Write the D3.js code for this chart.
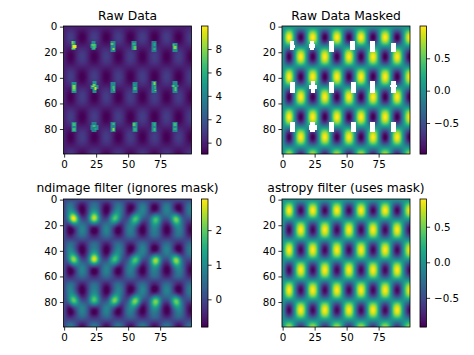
<!DOCTYPE html>
<html>
<head>
<meta charset="utf-8">
<script src="https://cdn.jsdelivr.net/npm/d3@7"></script>
<style>
  html, body { margin: 0; padding: 0; background: #fff; }
  text { font-family: "DejaVu Sans", sans-serif; fill: #000; }
</style>
</head>
<body>
<div id="chart"></div>
<script>
// Titles, tick labels and colour ranges
const titles = ["Raw Data", "Raw Data Masked", "ndimage filter (ignores mask)", "astropy filter (uses mask)"];
const imageTicksX = [0, 25, 50, 75];
const imageTicksY = [0, 20, 40, 60, 80];
const rawBarTicks = [0, 2, 4, 6, 8];
const maskedBarTicks = [-0.5, 0, 0.5];
const ndimageBarTicks = [0, 1, 2];
const astropyBarTicks = [-0.5, 0, 0.5];
const rawRange = [-0.97, 9.97];
const maskedRange = [-0.98, 1];
const ndimageRange = [-0.8, 2.9];
const astropyRange = [-0.91, 0.89];

// Background wave of the raw image, sampled every 4.71 columns and 7.85 rows
const rawGrid = [
  [0,0,0,0,0,0,0,0,0,0,0,0,0,0,0,0,0,0,0,0,0,0],
  [0,1,0,-1,0,1,0,-1,0,1,0,-1,0,1,0,-1,0,1,0,-1,0,1],
  [0,0,0,0,0,0,0,0,0,0,0,0,0,0,0,0,0,0,0,0,0,0],
  [0,-1,0,1,0,-1,0,1,0,-1,0,1,0,-1,0,1,0,-1,0,1,0,-1],
  [0,0,0,0,0,0,0,0,0,0,0,0,0,0,0,0,0,0,0,0,0,0],
  [0,1,0,-1,0,1,0,-1,0,1,0,-1,0,1,0,-1,0,1,0,-1,0,1],
  [0,0,0,0,0,0,0,0,0,0,0,0,0,0,0,0,0,0,0,0,0,0],
  [0,-1,0,1,0,-1,0,1,0,-1,0,1,0,-1,0,1,0,-1,0,1,0,-1],
  [0,0,0,0,0,0,0,0,0,0,0,0,0,0,0,0,0,0,0,0,0,0],
  [0,1,0,-1,0,1,0,-1,0,1,0,-1,0,1,0,-1,0,1,0,-1,0,1],
  [0,0,0,0,0,0,0,0,0,0,0,0,0,0,0,0,0,0,0,0,0,0],
  [0,-1,0,1,0,-1,0,1,0,-1,0,1,0,-1,0,1,0,-1,0,1,0,-1],
  [0,0,0,0,0,0,0,0,0,0,0,0,0,0,0,0,0,0,0,0,0,0],
  [0,1,0,-1,0,1,0,-1,0,1,0,-1,0,1,0,-1,0,1,0,-1,0,1]
];

// Astropy result, same sampling as rawGrid
const astropyGrid = [
  [0,0,0,0,0,0,0,0,0,0,0,0,0,0,0,0,0,0,0,0,0,0],
  [0,.88,0,-.88,0,.88,0,-.88,0,.88,0,-.88,0,.88,0,-.88,0,.88,0,-.88,0,.86],
  [0,0,0,0,0,0,0,0,0,0,0,0,0,0,0,0,0,0,0,0,0,0],
  [0,-.88,0,.88,0,-.88,0,.88,0,-.88,0,.88,0,-.88,0,.88,0,-.88,0,.88,0,-.86],
  [0,0,0,0,0,0,0,0,0,0,0,0,0,0,0,0,0,0,0,0,0,0],
  [0,.88,0,-.88,0,.88,0,-.88,0,.88,0,-.88,0,.88,0,-.88,0,.88,0,-.88,0,.86],
  [0,0,0,0,0,0,0,0,0,0,0,0,0,0,0,0,0,0,0,0,0,0],
  [0,-.88,0,.88,0,-.88,0,.88,0,-.88,0,.88,0,-.88,0,.88,0,-.88,0,.88,0,-.86],
  [0,0,0,0,0,0,0,0,0,0,0,0,0,0,0,0,0,0,0,0,0,0],
  [0,.88,0,-.88,0,.88,0,-.88,0,.88,0,-.88,0,.88,0,-.88,0,.88,0,-.88,0,.86],
  [0,0,0,0,0,0,0,0,0,0,0,0,0,0,0,0,0,0,0,0,0,0],
  [0,-.88,0,.88,0,-.88,0,.88,0,-.88,0,.88,0,-.88,0,.88,0,-.88,0,.88,0,-.86],
  [0,0,0,0,0,0,0,0,0,0,0,0,0,0,0,0,0,0,0,0,0,0],
  [0,.84,0,-.84,0,.84,0,-.84,0,.84,0,-.84,0,.84,0,-.84,0,.84,0,-.84,0,.82]
];

// ndimage result, columns -0.5, 3.5, 7.5 ... and rows -1, 3, 7 ...
const ndimageGrid = [
  [.03,-.16,-.10,.11,.15,-.04,-.17,-.04,.15,.11,-.10,-.16,.02,.17,.06,-.14,-.12,.08,.16,-.01,-.17,-.07,.13,.13,-.07,-.17],
  [-.08,.44,.29,-.30,-.43,.11,.48,.12,-.42,-.32,.27,.44,-.06,-.47,-.16,.40,.35,-.24,-.46,.02,.46,.21,-.37,-.38,.19,.46],
  [-.14,.76,.50,-.53,-.75,.19,.83,.21,-.74,-.56,.47,.77,-.10,-.82,-.28,.70,.61,-.41,-.80,.03,.81,.36,-.65,-.66,.33,.81],
  [-.11,1.05,1.67,-.02,-.62,.51,1.77,.53,-.61,-.19,1.20,.91,-.08,-.39,.63,.87,.50,-.05,.20,.31,.67,.63,.46,-.21,.28,.67],
  [-.02,1.09,2.87,.90,-.11,.87,2.52,.87,-.11,.55,1.87,.74,-.01,.55,1.86,.77,.09,.61,1.79,.67,.12,.82,2.11,.68,.05,.12],
  [.09,-.06,.95,.75,.47,.24,.56,.23,.46,.62,.52,-.21,.06,.80,1.04,-.14,-.38,.55,1.36,.27,-.51,.10,1.39,.74,-.21,-.51],
  [.14,-.77,-.50,.53,.76,-.19,-.84,-.21,.74,.56,-.48,-.78,.10,.83,.29,-.70,-.61,.42,.81,-.03,-.82,-.37,.65,.66,-.34,-.82],
  [.11,-.60,-.39,.42,.59,-.15,-.65,-.16,.58,.44,-.37,-.61,.08,.65,.22,-.55,-.48,.32,.63,-.02,-.64,-.28,.51,.52,-.26,-.64],
  [.01,-.06,-.04,.04,.06,-.02,-.07,-.02,.06,.05,-.04,-.06,.01,.07,.02,-.06,-.05,.03,.07,0,-.07,-.03,.05,.05,-.03,-.07],
  [-.09,.51,.34,-.36,-.51,.13,.56,.14,-.50,-.38,.32,.52,-.07,-.55,-.19,.47,.41,-.28,-.54,.02,.55,.24,-.44,-.44,.22,.55],
  [-.14,.78,.51,-.54,-.77,.19,.85,.21,-.75,-.57,.48,.79,-.10,-.84,-.29,.71,.62,-.42,-.82,.03,.83,.37,-.66,-.67,.34,.83],
  [-.10,.92,1.41,-.04,-.56,.55,1.84,.56,-.55,-.15,1.16,.85,-.07,-.32,.65,.81,.45,.05,.48,.38,.61,.62,.56,-.14,.25,.61],
  [0,.81,2.3,.81,0,.95,2.7,.95,0,.63,1.8,.63,0,.67,1.9,.67,0,.84,2.4,.84,0,.81,2.3,.81,0,0],
  [.10,-.20,.68,.73,.54,.28,.62,.26,.53,.67,.47,-.28,.07,.88,1.06,-.21,-.43,.65,1.65,.34,-.58,.09,1.50,.82,-.24,-.58],
  [.14,-.78,-.51,.54,.77,-.19,-.85,-.21,.75,.57,-.48,-.79,.10,.84,.29,-.71,-.62,.42,.82,-.03,-.83,-.37,.66,.67,-.34,-.83],
  [.10,-.54,-.35,.37,.53,-.13,-.59,-.14,.52,.39,-.33,-.55,.07,.58,.20,-.49,-.43,.29,.57,-.02,-.57,-.26,.46,.46,-.23,-.57],
  [0,.02,.02,-.02,-.02,.01,.03,.01,-.02,-.02,.01,.02,0,-.03,-.01,.02,.02,-.01,-.02,0,.02,.01,-.02,-.02,.01,.02],
  [-.10,.58,.38,-.40,-.57,.14,.63,.16,-.56,-.42,.36,.58,-.07,-.62,-.21,.53,.46,-.31,-.61,.02,.61,.27,-.49,-.50,.25,.61],
  [-.14,.78,.51,-.54,-.77,.19,.85,.21,-.75,-.57,.48,.79,-.10,-.84,-.29,.71,.62,-.42,-.82,.03,.83,.37,-.66,-.67,.34,.83],
  [-.09,.81,1.23,-.05,-.50,.41,1.41,.43,-.49,-.04,1.30,.84,-.07,-.22,.80,.79,.40,.04,.42,.33,.54,.54,.47,-.14,.22,.54],
  [.01,.65,1.97,.73,.05,.66,1.85,.66,.05,.80,2.17,.72,.01,.82,2.22,.73,-.04,.76,2.15,.73,-.05,.68,2.04,.74,-.02,-.05],
  [.11,-.32,.50,.73,.61,.14,.19,.12,.59,.78,.61,-.29,.08,.99,1.22,-.23,-.49,.64,1.60,.29,-.66,.01,1.42,.83,-.27,-.66],
  [.14,-.76,-.50,.53,.75,-.19,-.83,-.21,.74,.56,-.47,-.77,.10,.82,.28,-.70,-.61,.41,.80,-.03,-.81,-.36,.65,.66,-.33,-.81],
  [.08,-.47,-.31,.32,.46,-.11,-.51,-.13,.45,.34,-.29,-.47,.06,.50,.17,-.43,-.37,.25,.49,-.02,-.50,-.22,.40,.40,-.20,-.50],
  [-.02,.12,.08,-.08,-.12,.03,.13,.03,-.11,-.09,.07,.12,-.02,-.13,-.04,.11,.09,-.06,-.12,0,.12,.06,-.10,-.10,.05,.12],
  [-.11,.62,.40,-.43,-.61,.15,.67,.17,-.59,-.45,.38,.62,-.08,-.66,-.23,.56,.49,-.33,-.65,.02,.66,.29,-.52,-.53,.27,.66]
];

// Spikes in the raw image: first column, last column, first row, last row, value.
// Bright specks come before the body of each blob, the first match wins.
// The same cells are the white holes of the masked panel.
const spikes = [
  [6,7,12,13,7.5],[7,9,15,16,9.7],[6,8,17,17,8],[6,8,12,18,5.5],
  [22,24,14,15,7],[23,24,16,17,6.5],[22,24,12,18,4.5],[21,25,14,16,5],
  [37,38,13,14,7],[38,39,17,18,8],[37,40,12,19,4.2],
  [54,55,13,14,6],[55,56,16,18,7],[53,56,12,18,4.2],
  [70,71,13,15,5.5],[70,71,17,18,6],[69,72,12,19,3.6],
  [85,86,14,15,6.5],[86,87,16,17,8],[85,88,13,19,4.5],
  [7,8,46,48,8],[7,8,49,50,7],[6,9,44,51,4.6],
  [23,24,45,46,7.5],[24,25,48,49,9],[22,23,47,47,8],[23,25,43,51,4.6],[21,26,46,48,4.5],
  [38,39,47,48,6.5],[39,39,49,50,7.5],[37,40,44,51,4.2],
  [55,56,48,49,6.5],[55,55,45,46,5],[54,57,44,51,3.8],
  [70,71,44,45,8],[71,71,47,48,6.5],[71,72,50,50,7.5],[69,72,43,51,4.2],
  [85,86,46,47,7],[87,87,48,50,7],[85,88,43,51,4.2],[84,89,46,47,4.5],
  [7,8,76,77,6.5],[7,8,80,81,6.5],[6,9,75,82,4.2],
  [23,24,77,78,6.5],[24,25,80,80,5.5],[22,25,75,82,3.8],[21,26,77,80,4.2],
  [38,39,76,76,6.5],[38,39,80,81,8],[37,40,75,82,4.2],
  [54,55,76,77,7],[55,56,80,81,6],[54,57,75,82,4.2],
  [70,71,76,77,6],[70,71,80,81,6.5],[69,72,75,82,4.2],
  [86,87,76,77,6.5],[86,87,80,80,6],[85,88,75,82,4.2]
];

// Layout of the figure
const size = 128;
const barWidth = 6.5;
const lefts = [63.5, 282, 63.5, 282];
const tops = [26, 26, 199, 199];
const titleGaps = [6, 6, 7.3, 7.3];
const barGap = 138;

const svg = d3.select("#chart")
    .append("svg")
    .attr("width", 474)
    .attr("height", 355)
    .style("display", "block");

// Sampling of the two kinds of grid
const waveSampling = { x0: 0, dx: 4.71, y0: 0, dy: 7.85 };
const ndimageSampling = { x0: -0.5, dx: 4, y0: -1, dy: 4 };

// Lanczos kernel so the coarse grids come out smooth
function kernel(t) {
    if (t === 0) return 1;
    if (Math.abs(t) >= 3) return 0;
    const p = Math.PI * t;
    return 3 * Math.sin(p) * Math.sin(p / 3) / (p * p);
}

// Value of a grid at a data position
function sample(grid, s, u, v) {
    const gx = (u - s.x0) / s.dx, gy = (v - s.y0) / s.dy;
    const ix = Math.floor(gx), iy = Math.floor(gy);
    const rows = grid.length, cols = grid[0].length;
    let total = 0;
    for (let j = iy - 2; j <= iy + 3; j++) {
        const row = grid[Math.max(0, Math.min(rows - 1, j))];
        const wy = kernel(gy - j);
        for (let i = ix - 2; i <= ix + 3; i++) {
            total += row[Math.max(0, Math.min(cols - 1, i))] * wy * kernel(gx - i);
        }
    }
    return total;
}

function spikeAt(u, v) {
    const cx = Math.round(u), cy = Math.round(v);
    return spikes.find(d => cx >= d[0] && cx <= d[1] && cy >= d[2] && cy <= d[3]);
}

const fields = [
    (u, v) => { const s = spikeAt(u, v); return s ? s[4] : sample(rawGrid, waveSampling, u, v); },
    (u, v) => spikeAt(u, v) ? NaN : sample(rawGrid, waveSampling, u, v),
    (u, v) => sample(ndimageGrid, ndimageSampling, u, v),
    (u, v) => sample(astropyGrid, waveSampling, u, v)
];
const ranges = [rawRange, maskedRange, ndimageRange, astropyRange];
const barTicks = [rawBarTicks, maskedBarTicks, ndimageBarTicks, astropyBarTicks];
const barFormats = ["d", ".1f", "d", ".1f"];

// Minus sign the way the original labels have it
const minus = f => t => d3.format(f)(t).replace("-", "\u2212");

function styleAxis(g) {
    g.select(".domain").remove();
    g.selectAll("line").attr("stroke", "#000").attr("stroke-width", 0.8);
    g.selectAll("text").style("font-size", "10.3px");
}

titles.forEach((title, i) => {
    const g = svg.append("g")
        .attr("transform", `translate(${lefts[i]},${tops[i]})`);

    const x = d3.scaleLinear().domain([-0.5, 99.5]).range([0, size]);
    const y = d3.scaleLinear().domain([-0.5, 99.5]).range([0, size]);
    const color = d3.scaleSequential(d3.interpolateViridis).domain(ranges[i]);

    // Paint the image on a canvas, one pixel at a time
    const canvas = document.createElement("canvas");
    canvas.width = size;
    canvas.height = size;
    const ctx = canvas.getContext("2d");
    const img = ctx.createImageData(size, size);
    for (let py = 0; py < size; py++) {
        for (let px = 0; px < size; px++) {
            const value = fields[i](x.invert(px + 0.5), y.invert(py + 0.5));
            if (isNaN(value)) continue;
            const c = d3.rgb(color(value));
            const k = (py * size + px) * 4;
            img.data[k] = c.r;
            img.data[k + 1] = c.g;
            img.data[k + 2] = c.b;
            img.data[k + 3] = 255;
        }
    }
    ctx.putImageData(img, 0, 0);

    // The reference is soft, a copy with a small blur gets closer to it
    const soft = document.createElement("canvas");
    soft.width = size;
    soft.height = size;
    const softCtx = soft.getContext("2d");
    if (i !== 1) softCtx.drawImage(canvas, 0, 0);
    softCtx.filter = "blur(0.55px)";
    softCtx.drawImage(canvas, 0, 0);

    g.append("image")
        .attr("width", size)
        .attr("height", size)
        .attr("href", soft.toDataURL());

    g.append("rect")
        .attr("width", size)
        .attr("height", size)
        .attr("fill", "none")
        .attr("stroke", "#000")
        .attr("stroke-width", 0.8);

    g.append("g")
        .attr("transform", `translate(0,${size})`)
        .call(d3.axisBottom(x).tickValues(imageTicksX).tickSize(3.6).tickPadding(3.4))
        .call(styleAxis);
    g.append("g")
        .call(d3.axisLeft(y).tickValues(imageTicksY).tickSize(3.6).tickPadding(2.6))
        .call(styleAxis);

    g.append("text")
        .attr("x", size / 2)
        .attr("y", -titleGaps[i])
        .attr("text-anchor", "middle")
        .style("font-size", "12.3px")
        .text(title);

    // Colour bar
    const bar = g.append("g").attr("transform", `translate(${barGap},0)`);
    const barScale = d3.scaleLinear().domain(ranges[i]).range([size, 0]);
    bar.selectAll("rect.step")
        .data(d3.range(size))
        .enter()
        .append("rect")
        .attr("class", "step")
        .attr("y", d => d)
        .attr("width", barWidth)
        .attr("height", 1.2)
        .attr("fill", d => color(barScale.invert(d + 0.5)));
    bar.append("rect")
        .attr("width", barWidth)
        .attr("height", size)
        .attr("fill", "none")
        .attr("stroke", "#000")
        .attr("stroke-width", 0.8);
    bar.append("g")
        .attr("transform", `translate(${barWidth},0)`)
        .call(d3.axisRight(barScale).tickValues(barTicks[i]).tickFormat(minus(barFormats[i])).tickSize(3.6).tickPadding(4))
        .call(styleAxis);
});
</script>
</body>
</html>
